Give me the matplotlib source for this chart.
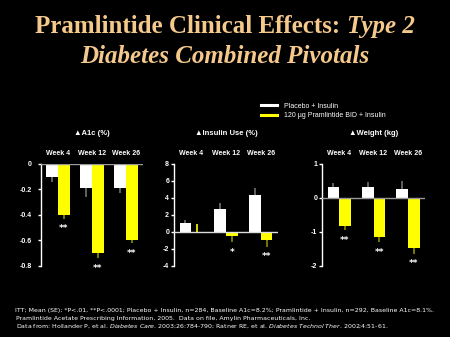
import numpy as np
import matplotlib
matplotlib.use('Agg')
import matplotlib.pyplot as plt
from matplotlib.lines import Line2D

# week groups shown on each panel
weeks = ['Week 4', 'Week 12', 'Week 26']
series = ['Placebo + Insulin', '120 \u00b5g Pramlintide BID + Insulin']

# change from baseline, mean and SE
a1c_plac = [-0.10, -0.19, -0.19]
a1c_plac_se = [0.04, 0.07, 0.04]
a1c_pram = [-0.40, -0.70, -0.60]
a1c_pram_se = [0.03, 0.04, 0.02]
a1c_sig = ['**', '**', '**']

ins_plac = [1.0, 2.7, 4.4]
ins_plac_se = [0.45, 0.7, 0.8]
ins_pram = [0.0, -0.5, -0.95]
ins_pram_se = [0.9, 0.7, 0.8]
ins_sig = ['', '*', '**']

wt_plac = [0.32, 0.32, 0.27]
wt_plac_se = [0.12, 0.14, 0.22]
wt_pram = [-0.81, -1.16, -1.48]
wt_pram_se = [0.14, 0.14, 0.16]
wt_sig = ['**', '**', '**']

panel_titles = ['\u25b2A1c (%)', '\u25b2Insulin Use (%)', '\u25b2Weight (kg)']
ylims = [(-0.8, 0), (-4, 8), (-2, 1)]
yticks = [[0, -0.2, -0.4, -0.6, -0.8], [8, 6, 4, 2, 0, -2, -4], [1, 0, -1, -2]]
zero_colors = ['#999999', '#dddddd', '#999999']
tick_pads = [4, 1, 1]

plac_color = 'white'
pram_color = '#ffff00'
sans = ['Liberation Sans', 'DejaVu Sans']

fig = plt.figure(figsize=(4.5, 3.37), dpi=100, facecolor='black')

# title: bold roman then bold italic
title_color = '#f5c98c'
tfont = dict(family='Liberation Serif', weight='bold', size=18, color=title_color)
t1 = fig.text(0, 0.902, 'Pramlintide Clinical Effects: ', va='baseline', ha='left', **tfont)
t2 = fig.text(0, 0.902, 'Type 2', va='baseline', ha='left', style='italic', **tfont)
fig.text(0.5, 0.812, 'Diabetes Combined Pivotals', va='baseline', ha='center',
         style='italic', **tfont)
fig.canvas.draw()
r = fig.canvas.get_renderer()
w1 = t1.get_window_extent(r).width
w2 = t2.get_window_extent(r).width
x0 = (450 - w1 - w2) / 2
t1.set_x(x0 / 450)
t2.set_x((x0 + w1) / 450)

# legend
handles = [Line2D([], [], color=plac_color, lw=2.2),
           Line2D([], [], color=pram_color, lw=2.2)]
fig.legend(handles, series, loc='upper left', bbox_to_anchor=(0.572, 0.706),
           frameon=False, prop=dict(family=sans, size=5), labelcolor='white',
           handlelength=2.3, handletextpad=1.0, labelspacing=0.35, borderpad=0)

rects = [[0.0911, 0.2107, 0.2267, 0.3027],
         [0.3867, 0.2107, 0.2311, 0.3027],
         [0.7156, 0.2107, 0.2289, 0.3027]]
data = [(a1c_plac, a1c_plac_se, a1c_pram, a1c_pram_se, a1c_sig),
        (ins_plac, ins_plac_se, ins_pram, ins_pram_se, ins_sig),
        (wt_plac, wt_plac_se, wt_pram, wt_pram_se, wt_sig)]

x = np.arange(len(weeks))
bw = 0.34
for i in range(3):
    ax = fig.add_axes(rects[i])
    ax.set_facecolor('black')
    plac, plac_se, pram, pram_se, sig = data[i]
    plac = np.array(plac)
    pram = np.array(pram)
    ax.bar(x - bw / 2, plac, bw, color=plac_color, zorder=2)
    ax.bar(x + bw / 2, pram, bw, color=pram_color, zorder=2)
    # one-sided error bars pointing away from zero
    pl_err = np.array([[0] * 3, plac_se]) if plac.mean() > 0 else np.array([plac_se, [0] * 3])
    ax.errorbar(x - bw / 2, plac, yerr=pl_err, fmt='none', ecolor='#707070',
                elinewidth=1.2, capsize=0, zorder=1)
    for j in range(3):
        if pram[j] >= 0:
            e = [[0], [pram_se[j]]]
            ec = pram_color
        else:
            e = [[pram_se[j]], [0]]
            ec = '#8c8c00'
        ax.errorbar(x[j] + bw / 2, pram[j], yerr=e, fmt='none', ecolor=ec,
                    elinewidth=1.2, capsize=0, zorder=1)
        if sig[j]:
            ax.annotate(sig[j], (x[j] + bw / 2, pram[j] - pram_se[j]),
                        xytext=(0, -4), textcoords='offset points',
                        ha='center', va='top', color='white', fontsize=6.5,
                        fontweight='bold')
    ax.axhline(0, color=zero_colors[i], lw=1.0, zorder=3)
    ax.set_xlim(-0.5, 2.5)
    ax.set_ylim(*ylims[i])
    ax.set_yticks(yticks[i])
    ax.set_yticklabels([('%g' % v) for v in yticks[i]], family=sans, fontweight='bold')
    ax.set_xticks([])
    for s in ['top', 'right', 'bottom']:
        ax.spines[s].set_visible(False)
    ax.spines['left'].set_color('white')
    ax.spines['left'].set_linewidth(1.0)
    ax.tick_params(axis='y', colors='white', labelsize=5, length=2.5, width=1.0,
                   pad=tick_pads[i])
    for j, w in enumerate(weeks):
        ax.text(x[j], 1.10, w, transform=ax.get_xaxis_transform(), ha='center',
                va='center', color='white', fontsize=5, fontweight='bold', family=sans)
    ax.text(0.5, 1.295, panel_titles[i], transform=ax.transAxes, ha='center',
            va='center', color='white', fontsize=5.5, fontweight='bold', family=sans)

# footnotes
fn = dict(color='white', fontsize=4.5, ha='left', va='center')
fig.text(0.033, 1 - 310.7 / 337,
         'ITT; Mean (SE); *P<.01, **P<.0001; Placebo + Insulin, n=284, Baseline A1c=8.2%; '
         'Pramlintide + Insulin, n=292, Baseline A1c=8.1%.', **fn)
fig.text(0.036, 1 - 318.5 / 337,
         'Pramlintide Acetate Prescribing Information, 2005.  Data on file, Amylin Pharmaceuticals, Inc.',
         **fn)
fig.text(0.036, 1 - 326.7 / 337,
         'Data from: Hollander P, et al. $\\it{Diabetes\\ Care}$. 2003;26:784-790; Ratner RE, et al. '
         '$\\it{Diabetes\\ Technol\\ Ther}$. 2002;4:51-61.', **fn)

fig.savefig('out.png', dpi=100, facecolor='black')
